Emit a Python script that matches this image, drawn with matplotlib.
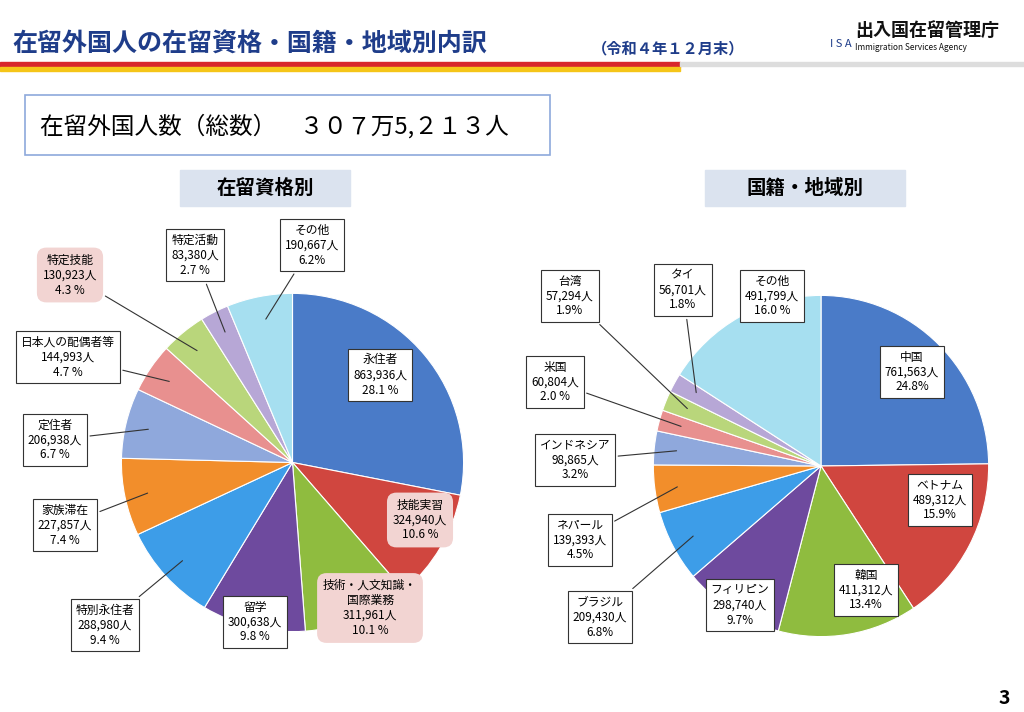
import numpy as np
import matplotlib
matplotlib.use("Agg")
import matplotlib.pyplot as plt
from matplotlib.patches import Rectangle

plt.rcParams["font.family"] = ["Noto Sans CJK JP", "DejaVu Sans"]

# 在留資格別
status_labels = ["永住者", "技能実習", "技術・人文知識・\n国際業務", "留学", "特別永住者", "家族滞在",
                 "定住者", "日本人の配偶者等", "特定技能", "特定活動", "その他"]
status_counts = ["863,936人", "324,940人", "311,961人", "300,638人", "288,980人", "227,857人",
                 "206,938人", "144,993人", "130,923人", "83,380人", "190,667人"]
status_pct = [28.1, 10.6, 10.1, 9.8, 9.4, 7.4, 6.7, 4.7, 4.3, 2.7, 6.2]
status_pct_text = ["28.1 %", "10.6 %", "10.1 %", "9.8 %", "9.4 %", "7.4 %", "6.7 %", "4.7 %", "4.3 %", "2.7 %", "6.2%"]
status_box = [(380, 375), (420, 520), (370, 608), (255, 622), (105, 625), (65, 525),
              (55, 440), (68, 357), (70, 275), (195, 255), (312, 245)]
status_hl = [False, True, True, False, False, False, False, False, True, False, False]

# 国籍・地域別
nation_labels = ["中国", "ベトナム", "韓国", "フィリピン", "ブラジル", "ネパール",
                 "インドネシア", "米国", "台湾", "タイ", "その他"]
nation_counts = ["761,563人", "489,312人", "411,312人", "298,740人", "209,430人", "139,393人",
                 "98,865人", "60,804人", "57,294人", "56,701人", "491,799人"]
nation_pct = [24.8, 15.9, 13.4, 9.7, 6.8, 4.5, 3.2, 2.0, 1.9, 1.8, 16.0]
nation_pct_text = ["24.8%", "15.9%", "13.4%", "9.7%", "6.8%", "4.5%", "3.2%", "2.0 %", "1.9%", "1.8%", "16.0 %"]
nation_box = [(912, 372), (940, 500), (866, 590), (740, 605), (600, 617), (580, 540),
              (575, 460), (555, 382), (570, 296), (683, 290), (772, 296)]

pie_colors = ["#4a7bc8", "#d0463f", "#8fbc3f", "#6e4a9e", "#3d9de8", "#f28e2b",
              "#8fa8dc", "#e8908f", "#b9d67b", "#b7a7d6", "#a6dff0"]

W, H = 1024, 712
fig = plt.figure(figsize=(W / 100, H / 100), dpi=100)
ov = fig.add_axes([0, 0, 1, 1], zorder=0)
ov.set_xlim(0, W)
ov.set_ylim(H, 0)
ov.axis("off")

# header
ov.text(12, 45, "在留外国人の在留資格・国籍・地域別内訳", fontsize=18, fontweight="bold",
        color="#1f3d8a", va="center")
ov.text(592, 48, "（令和４年１２月末）", fontsize=11, fontweight="bold", color="#1f3d8a", va="center")
ov.add_patch(Rectangle((0, 62), 680, 5, color="#d8262c"))
ov.add_patch(Rectangle((0, 67), 680, 4, color="#f5c518"))
ov.add_patch(Rectangle((680, 62), 344, 4, color="#dddddd"))
ov.text(830, 44, "I S A", fontsize=8, color="#1f3d8a", va="center")
ov.text(855, 30, "出入国在留管理庁", fontsize=13, fontweight="bold", color="#111", va="center")
ov.text(855, 48, "Immigration Services Agency", fontsize=6, color="#111", va="center")
ov.text(1010, 698, "3", fontsize=14, fontweight="bold", ha="right", va="center")

# total box
ov.add_patch(Rectangle((25, 95), 525, 60, facecolor="white", edgecolor="#8ea9db", lw=1.2))
ov.text(40, 126, "在留外国人数（総数）　３０７万5,２１３人", fontsize=17, va="center")

# section headers
for x0, w, t in [(180, 170, "在留資格別"), (705, 200, "国籍・地域別")]:
    ov.add_patch(Rectangle((x0, 170), w, 36, color="#dbe3ef"))
    ov.text(x0 + w / 2, 188, t, fontsize=14, fontweight="bold", ha="center", va="center")


def draw_pie(rect, pct, labels, counts, pctt, boxes, hl=None, inside=()):
    x0, y0, x1, y1 = rect
    ax = fig.add_axes([x0 / W, 1 - y1 / H, (x1 - x0) / W, (y1 - y0) / H], zorder=1)
    wedges, _ = ax.pie(pct, colors=pie_colors, startangle=90, counterclock=False,
                       wedgeprops=dict(edgecolor="white", linewidth=0.8))
    ax.set_aspect("auto")
    ax.set_xlim(-1.02, 1.02)
    ax.set_ylim(-1.02, 1.02)
    for i, w in enumerate(wedges):
        txt = f"{labels[i]}\n{counts[i]}\n{pctt[i]}"
        fc = "#f2d4d2" if (hl and hl[i]) else "white"
        ec = "none" if (hl and hl[i]) else "#333333"
        bs = "round,pad=0.5,rounding_size=0.8" if (hl and hl[i]) else "square,pad=0.4"
        ang = np.deg2rad((w.theta1 + w.theta2) / 2)
        if i in inside:
            ax.text(*boxes[i], txt, transform=ov.transData, fontsize=8.5, ha="center",
                    va="center", zorder=5, clip_on=False,
                    bbox=dict(boxstyle=bs, fc=fc, ec=ec, lw=0.8))
        else:
            r = 0.85
            ax.annotate(txt, xy=(r * np.cos(ang), r * np.sin(ang)), xycoords="data",
                        xytext=boxes[i], textcoords=ov.transData, fontsize=8.5,
                        ha="center", va="center", zorder=5,
                        bbox=dict(boxstyle=bs, fc=fc, ec=ec, lw=0.8),
                        arrowprops=dict(arrowstyle="-", color="#333333", lw=0.8))
    return ax


draw_pie((118, 290, 467, 635), status_pct, status_labels, status_counts,
         status_pct_text, status_box, status_hl, inside=(0, 1, 2, 3))
draw_pie((650, 292, 992, 640), nation_pct, nation_labels, nation_counts,
         nation_pct_text, nation_box, inside=(0, 1, 2, 3, 10))

fig.savefig("out.png", dpi=100)
